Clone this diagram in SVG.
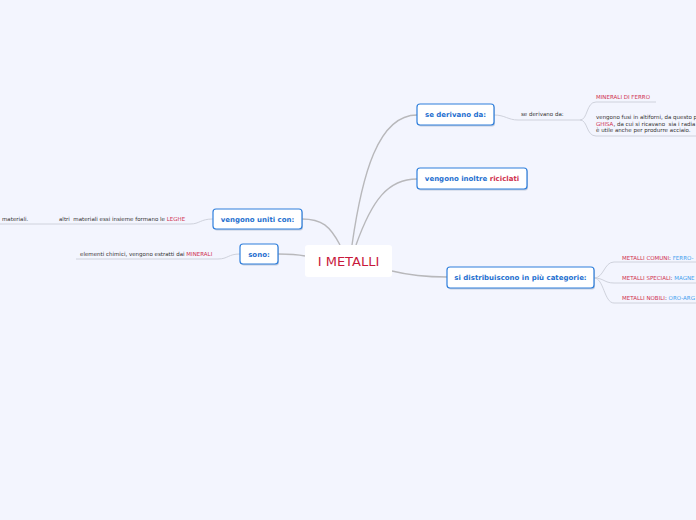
<svg xmlns="http://www.w3.org/2000/svg" width="696" height="520" viewBox="0 0 696 520">
<defs>
<style>
.bg{fill:#f3f5fe}
.box{fill:#ffffff;stroke:#2f7fdc;stroke-width:1.2}
.sh{fill:#8a9bb5;opacity:0.45}
.lbl{font-family:"DejaVu Sans",Verdana,sans-serif;font-weight:bold;font-size:7px;fill:#1e6fcf}
.sm{font-family:"DejaVu Sans",Verdana,sans-serif;font-size:5.5px;fill:#333333}
.red{fill:#d0304f}
.blue{fill:#3fa0ee}
.con{fill:none;stroke:#b8b8bb;stroke-width:1.4}
.sub{fill:none;stroke:#cfd2dc;stroke-width:1}
</style>
</defs>
<rect class="bg" x="0" y="0" width="696" height="520"/>
<g id="connectors">
<path class="con" d="M352,245 C362,175 378,115 417,115"/>
<path class="con" d="M356,245 C372,200 388,179 417,179"/>
<path class="con" d="M340,245 C330,226 322,219 302,219"/>
<path class="con" d="M305,256 C295,254 290,254 278,254"/>
<path class="con" d="M392,271 C412,276 430,277 447,277"/>
<path class="sub" d="M494,115 C505,115 508,120 518,120 L580,120"/>
<path class="sub" d="M580,120 C588,120 586,102 596,102 L656,102"/>
<path class="sub" d="M580,120 C588,120 586,136 596,136 L696,136"/>
<path class="sub" d="M213,219 C200,219 200,224 190,224 L55,224"/>
<path class="sub" d="M55,224 L0,224"/>
<path class="sub" d="M240,254 C228,254 228,259 218,259 L76,259"/>
<path class="sub" d="M594,278 C604,278 604,262 614,262 L696,262"/>
<path class="sub" d="M594,278 C604,278 604,283 614,283 L696,283"/>
<path class="sub" d="M594,278 C604,278 604,303 614,303 L696,303"/>
</g>
<g id="center">
<rect x="305" y="245" width="87" height="32" rx="3" fill="#ffffff"/>
<text x="348.5" y="266" text-anchor="middle" font-family="DejaVu Sans,Verdana,sans-serif" font-size="13" fill="#c8193c">I METALLI</text>
</g>
<g id="n-derivano">
<rect class="sh" x="418" y="105.5" width="77" height="21" rx="3"/>
<rect class="box" x="417" y="104" width="77" height="21" rx="3"/>
<text class="lbl" x="455.5" y="117.3" text-anchor="middle">se derivano da:</text>
</g>
<g id="n-riciclati">
<rect class="sh" x="418" y="169.5" width="110" height="21" rx="3"/>
<rect class="box" x="417" y="168" width="110" height="21" rx="3"/>
<text class="lbl" x="472" y="181.3" text-anchor="middle">vengono inoltre <tspan class="red">riciclati</tspan></text>
</g>
<g id="n-uniti">
<rect class="sh" x="214" y="210.5" width="89" height="20" rx="3"/>
<rect class="box" x="213" y="209" width="89" height="20" rx="3"/>
<text class="lbl" x="257.5" y="221.6" text-anchor="middle">vengono uniti con:</text>
</g>
<g id="n-sono">
<rect class="sh" x="241" y="245.5" width="38" height="20" rx="3"/>
<rect class="box" x="240" y="244" width="38" height="20" rx="3"/>
<text class="lbl" x="259" y="256.6" text-anchor="middle">sono:</text>
</g>
<g id="n-categorie">
<rect class="sh" x="448" y="268.5" width="147" height="21" rx="3"/>
<rect class="box" x="447" y="267" width="147" height="21" rx="3"/>
<text class="lbl" x="520.5" y="280.3" text-anchor="middle">si distribuiscono in più categorie:</text>
</g>
<g id="t-sederivano">
<text class="sm" x="521" y="116">se derivano da:</text>
</g>
<g id="t-minerali-ferro">
<text class="sm red" x="596" y="99">MINERALI DI FERRO</text>
</g>
<g id="t-fusi">
<text class="sm" x="596" y="119">vengono fusi in altiforni, da questo p</text>
<text class="sm" x="596" y="125.5"><tspan class="red">GHISA</tspan>, da cui si ricavano &#160;sia i radia</text>
<text class="sm" x="596" y="132">è utile anche per produrre acciaio.</text>
</g>
<g id="t-leghe">
<text class="sm" x="59" y="220.5">altri &#160;materiali essi insieme formano le <tspan class="red">LEGHE</tspan></text>
</g>
<g id="t-materiali">
<text class="sm" x="2" y="220.5">materiali.</text>
</g>
<g id="t-elementi">
<text class="sm" x="80" y="255.5">elementi chimici, vengono estratti dai <tspan class="red">MINERALI</tspan></text>
</g>
<g id="t-comuni">
<text class="sm" x="622" y="259.5"><tspan class="red">METALLI COMUNI</tspan>: <tspan class="blue">FERRO-</tspan></text>
</g>
<g id="t-speciali">
<text class="sm" x="622" y="279.5"><tspan class="red">METALLI SPECIALI</tspan>: <tspan class="blue">MAGNE</tspan></text>
</g>
<g id="t-nobili">
<text class="sm" x="622" y="299.5"><tspan class="red">METALLI NOBILI</tspan>: <tspan class="blue">ORO-ARG</tspan></text>
</g>
</svg>
